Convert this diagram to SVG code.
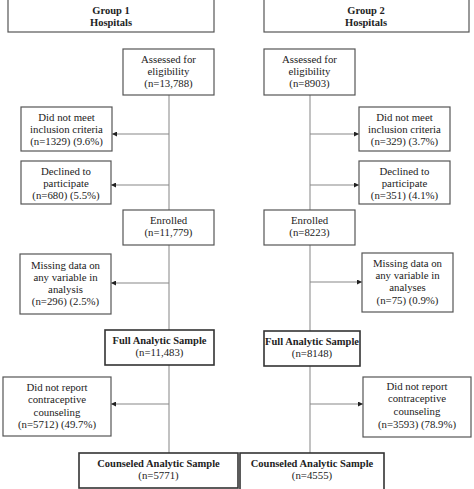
<svg xmlns="http://www.w3.org/2000/svg" width="474" height="489" viewBox="0 0 474 489">
<defs>
<marker id="ah" viewBox="0 0 6 6" refX="6" refY="3" markerWidth="5" markerHeight="5" orient="auto" markerUnits="userSpaceOnUse">
<path d="M0,0 L6,3 L0,6 z" fill="#222"/>
</marker>
<style>
.box{fill:#fff;stroke:#555;stroke-width:1.2}
.bold{fill:#fff;stroke:#333;stroke-width:1.6}
.ln{stroke:#999;stroke-width:1.2;fill:none}
.ar{stroke:#888;stroke-width:1.2;fill:none;marker-end:url(#ah)}
text{font-size:10.8px;fill:#222;text-anchor:middle}
.b{font-weight:bold;font-size:10.5px}
</style>
</defs>
<rect width="474" height="489" fill="#fff"/>
<g id="connectors">
<line class="ln" x1="169" y1="95" x2="169" y2="330"/>
<line class="ln" x1="169" y1="365" x2="169" y2="453"/>
<line class="ln" x1="310" y1="95" x2="310" y2="331"/>
<line class="ln" x1="310" y1="366" x2="310" y2="453"/>
<line class="ar" x1="169" y1="134" x2="112" y2="134"/>
<line class="ar" x1="169" y1="185" x2="111" y2="185"/>
<line class="ar" x1="169" y1="283" x2="111" y2="283"/>
<line class="ar" x1="169" y1="404" x2="111" y2="404"/>
<line class="ar" x1="310" y1="134" x2="359" y2="134"/>
<line class="ar" x1="310" y1="185" x2="359" y2="185"/>
<line class="ar" x1="310" y1="282" x2="362" y2="282"/>
<line class="ar" x1="310" y1="404" x2="363" y2="404"/>
</g>
<g font-family="Liberation Serif, Times New Roman, serif">
<g id="group1">
<rect class="box" x="8" y="-2" width="206" height="34"/>
<text class="b" x="111" y="14">Group 1</text>
<text class="b" x="111" y="26">Hospitals</text>
</g>
<g id="group2">
<rect class="box" x="264" y="-2" width="205" height="34"/>
<text class="b" x="366" y="14">Group 2</text>
<text class="b" x="366" y="26">Hospitals</text>
</g>
<g id="assessed1">
<rect class="box" x="123" y="49" width="91" height="46"/>
<text x="168.5" y="63">Assessed for</text>
<text x="168.5" y="75">eligibility</text>
<text x="168.5" y="87">(n=13,788)</text>
</g>
<g id="assessed2">
<rect class="box" x="264" y="49" width="91" height="46"/>
<text x="309.5" y="63">Assessed for</text>
<text x="309.5" y="75">eligibility</text>
<text x="309.5" y="87">(n=8903)</text>
</g>
<g id="notmeet1">
<rect class="box" x="21" y="107" width="91" height="44"/>
<text x="66.5" y="121">Did not meet</text>
<text x="66.5" y="133">inclusion criteria</text>
<text x="66.5" y="145">(n=1329) (9.6%)</text>
</g>
<g id="notmeet2">
<rect class="box" x="359" y="107" width="91" height="44"/>
<text x="404.5" y="121">Did not meet</text>
<text x="404.5" y="133">inclusion criteria</text>
<text x="404.5" y="145">(n=329) (3.7%)</text>
</g>
<g id="declined1">
<rect class="box" x="21" y="161" width="90" height="43"/>
<text x="66" y="175">Declined to</text>
<text x="66" y="187">participate</text>
<text x="66" y="199">(n=680) (5.5%)</text>
</g>
<g id="declined2">
<rect class="box" x="359" y="161" width="91" height="43"/>
<text x="404.5" y="175">Declined to</text>
<text x="404.5" y="187">participate</text>
<text x="404.5" y="199">(n=351) (4.1%)</text>
</g>
<g id="enrolled1">
<rect class="box" x="123" y="210" width="91" height="35"/>
<text x="168.5" y="224">Enrolled</text>
<text x="168.5" y="236">(n=11,779)</text>
</g>
<g id="enrolled2">
<rect class="box" x="264" y="210" width="91" height="35"/>
<text x="309.5" y="224">Enrolled</text>
<text x="309.5" y="236">(n=8223)</text>
</g>
<g id="missing1">
<rect class="box" x="20" y="254" width="91" height="60"/>
<text x="65.5" y="269">Missing data on</text>
<text x="65.5" y="281">any variable in</text>
<text x="65.5" y="293">analysis</text>
<text x="65.5" y="305">(n=296) (2.5%)</text>
</g>
<g id="missing2">
<rect class="box" x="362" y="253" width="91" height="59"/>
<text x="407.5" y="267">Missing data on</text>
<text x="407.5" y="279">any variable in</text>
<text x="407.5" y="291">analyses</text>
<text x="407.5" y="304">(n=75) (0.9%)</text>
</g>
<g id="full1">
<rect class="bold" x="105" y="330" width="109" height="35"/>
<text class="b" x="159.5" y="344">Full Analytic Sample</text>
<text x="159.5" y="356">(n=11,483)</text>
</g>
<g id="full2">
<rect class="bold" x="264" y="331" width="96" height="35"/>
<text class="b" x="312" y="345">Full Analytic Sample</text>
<text x="312" y="357">(n=8148)</text>
</g>
<g id="notreport1">
<rect class="box" x="3" y="377" width="108" height="59"/>
<text x="57" y="391">Did not report</text>
<text x="57" y="403">contraceptive</text>
<text x="57" y="416">counseling</text>
<text x="57" y="428">(n=5712) (49.7%)</text>
</g>
<g id="notreport2">
<rect class="box" x="363" y="377" width="108" height="60"/>
<text x="417" y="390">Did not report</text>
<text x="417" y="402">contraceptive</text>
<text x="417" y="415">counseling</text>
<text x="417" y="428">(n=3593) (78.9%)</text>
</g>
<g id="counseled1">
<rect class="bold" x="79" y="453" width="159" height="35"/>
<text class="b" x="158.5" y="467">Counseled Analytic Sample</text>
<text x="158.5" y="479">(n=5771)</text>
</g>
<g id="counseled2">
<rect class="bold" x="240" y="453" width="144" height="37"/>
<text class="b" x="312" y="467">Counseled Analytic Sample</text>
<text x="312" y="479">(n=4555)</text>
</g>
</g>
</svg>
